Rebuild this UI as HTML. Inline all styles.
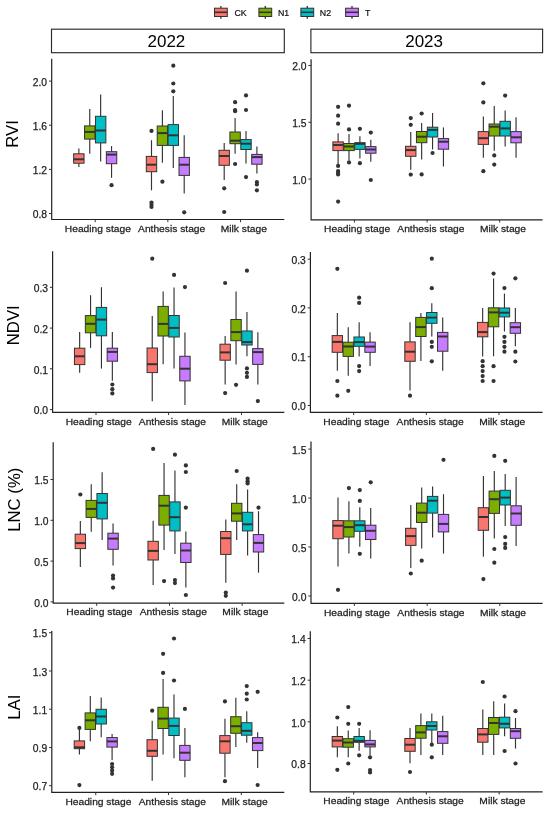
<!DOCTYPE html><html><head><meta charset="utf-8"><style>html,body{margin:0;padding:0;background:#fff;}svg{display:block;font-family:"Liberation Sans",sans-serif;}#w{will-change:transform;width:550px;height:813px;overflow:hidden}</style></head><body><div id="w"><svg width="550" height="813" viewBox="0 0 550 813">
<rect width="550" height="813" fill="#ffffff"/>
<line x1="220.9" y1="5.9" x2="220.9" y2="18.7" stroke="#333333" stroke-width="1.3"/>
<rect x="214.5" y="8.2" width="12.8" height="8.3" fill="#F8766D" stroke="#333333" stroke-width="1.0"/>
<line x1="214.5" y1="12.3" x2="227.3" y2="12.3" stroke="#333333" stroke-width="1.6"/>
<text x="234.4" y="15.7" font-size="8.8" fill="#111" stroke="#111" stroke-width="0.2">CK</text>
<line x1="265.3" y1="5.9" x2="265.3" y2="18.7" stroke="#333333" stroke-width="1.3"/>
<rect x="258.9" y="8.2" width="12.8" height="8.3" fill="#7CAE00" stroke="#333333" stroke-width="1.0"/>
<line x1="258.9" y1="12.3" x2="271.7" y2="12.3" stroke="#333333" stroke-width="1.6"/>
<text x="278" y="15.7" font-size="8.8" fill="#111" stroke="#111" stroke-width="0.2">N1</text>
<line x1="307.3" y1="5.9" x2="307.3" y2="18.7" stroke="#333333" stroke-width="1.3"/>
<rect x="300.9" y="8.2" width="12.8" height="8.3" fill="#00BFC4" stroke="#333333" stroke-width="1.0"/>
<line x1="300.9" y1="12.3" x2="313.7" y2="12.3" stroke="#333333" stroke-width="1.6"/>
<text x="319.8" y="15.7" font-size="8.8" fill="#111" stroke="#111" stroke-width="0.2">N2</text>
<line x1="352" y1="5.9" x2="352" y2="18.7" stroke="#333333" stroke-width="1.3"/>
<rect x="345.6" y="8.2" width="12.8" height="8.3" fill="#C77CFF" stroke="#333333" stroke-width="1.0"/>
<line x1="345.6" y1="12.3" x2="358.4" y2="12.3" stroke="#333333" stroke-width="1.6"/>
<text x="365" y="15.7" font-size="8.8" fill="#111" stroke="#111" stroke-width="0.2">T</text>
<rect x="51.5" y="29.2" width="232.8" height="23.5" fill="#fff" stroke="#2a2a2a" stroke-width="1.15"/>
<text x="166.4" y="47" font-size="17" text-anchor="middle" fill="#000">2022</text>
<rect x="310.9" y="29.2" width="231.7" height="23.5" fill="#fff" stroke="#2a2a2a" stroke-width="1.15"/>
<text x="424.1" y="47" font-size="17" text-anchor="middle" fill="#000">2023</text>
<line x1="78.85" y1="148.6" x2="78.85" y2="153.8" stroke="#333333" stroke-width="1.15"/>
<line x1="78.85" y1="163.2" x2="78.85" y2="167" stroke="#333333" stroke-width="1.15"/>
<rect x="73.65" y="153.8" width="10.4" height="9.4" fill="#F8766D" stroke="#333333" stroke-width="1.0"/>
<line x1="73.65" y1="159.3" x2="84.05" y2="159.3" stroke="#333333" stroke-width="2.0"/>
<line x1="89.75" y1="109" x2="89.75" y2="125.9" stroke="#333333" stroke-width="1.15"/>
<line x1="89.75" y1="139.1" x2="89.75" y2="153.8" stroke="#333333" stroke-width="1.15"/>
<rect x="84.55" y="125.9" width="10.4" height="13.2" fill="#7CAE00" stroke="#333333" stroke-width="1.0"/>
<line x1="84.55" y1="131.9" x2="94.95" y2="131.9" stroke="#333333" stroke-width="2.0"/>
<line x1="100.65" y1="94.4" x2="100.65" y2="116.3" stroke="#333333" stroke-width="1.15"/>
<line x1="100.65" y1="142.9" x2="100.65" y2="161.5" stroke="#333333" stroke-width="1.15"/>
<rect x="95.45" y="116.3" width="10.4" height="26.6" fill="#00BFC4" stroke="#333333" stroke-width="1.0"/>
<line x1="95.45" y1="130.5" x2="105.85" y2="130.5" stroke="#333333" stroke-width="2.0"/>
<line x1="111.55" y1="146.1" x2="111.55" y2="151.7" stroke="#333333" stroke-width="1.15"/>
<line x1="111.55" y1="163.7" x2="111.55" y2="177.8" stroke="#333333" stroke-width="1.15"/>
<rect x="106.35" y="151.7" width="10.4" height="12" fill="#C77CFF" stroke="#333333" stroke-width="1.0"/>
<line x1="106.35" y1="154.6" x2="116.75" y2="154.6" stroke="#333333" stroke-width="2.0"/>
<circle cx="111.55" cy="185.2" r="2.1" fill="#333333"/>
<line x1="151.5" y1="140.2" x2="151.5" y2="156.4" stroke="#333333" stroke-width="1.15"/>
<line x1="151.5" y1="171.7" x2="151.5" y2="190.3" stroke="#333333" stroke-width="1.15"/>
<rect x="146.3" y="156.4" width="10.4" height="15.3" fill="#F8766D" stroke="#333333" stroke-width="1.0"/>
<line x1="146.3" y1="164.7" x2="156.7" y2="164.7" stroke="#333333" stroke-width="2.0"/>
<circle cx="151.5" cy="130.9" r="2.1" fill="#333333"/>
<circle cx="151.5" cy="202.6" r="2.1" fill="#333333"/>
<circle cx="151.5" cy="204.8" r="2.1" fill="#333333"/>
<circle cx="151.5" cy="207" r="2.1" fill="#333333"/>
<line x1="162.4" y1="110.2" x2="162.4" y2="126" stroke="#333333" stroke-width="1.15"/>
<line x1="162.4" y1="145.4" x2="162.4" y2="162.8" stroke="#333333" stroke-width="1.15"/>
<rect x="157.2" y="126" width="10.4" height="19.4" fill="#7CAE00" stroke="#333333" stroke-width="1.0"/>
<line x1="157.2" y1="133.1" x2="167.6" y2="133.1" stroke="#333333" stroke-width="2.0"/>
<circle cx="162.4" cy="181.7" r="2.1" fill="#333333"/>
<line x1="173.3" y1="96" x2="173.3" y2="124.6" stroke="#333333" stroke-width="1.15"/>
<line x1="173.3" y1="145.4" x2="173.3" y2="167.9" stroke="#333333" stroke-width="1.15"/>
<rect x="168.1" y="124.6" width="10.4" height="20.8" fill="#00BFC4" stroke="#333333" stroke-width="1.0"/>
<line x1="168.1" y1="135.3" x2="178.5" y2="135.3" stroke="#333333" stroke-width="2.0"/>
<circle cx="173.3" cy="65.7" r="2.1" fill="#333333"/>
<circle cx="173.3" cy="83.5" r="2.1" fill="#333333"/>
<circle cx="173.3" cy="91.3" r="2.1" fill="#333333"/>
<line x1="184.2" y1="135.3" x2="184.2" y2="157.4" stroke="#333333" stroke-width="1.15"/>
<line x1="184.2" y1="175.4" x2="184.2" y2="193.6" stroke="#333333" stroke-width="1.15"/>
<rect x="179" y="157.4" width="10.4" height="18" fill="#C77CFF" stroke="#333333" stroke-width="1.0"/>
<line x1="179" y1="164.7" x2="189.4" y2="164.7" stroke="#333333" stroke-width="2.0"/>
<circle cx="184.2" cy="212.3" r="2.1" fill="#333333"/>
<line x1="224.2" y1="143.1" x2="224.2" y2="150.3" stroke="#333333" stroke-width="1.15"/>
<line x1="224.2" y1="165.3" x2="224.2" y2="180" stroke="#333333" stroke-width="1.15"/>
<rect x="219" y="150.3" width="10.4" height="15" fill="#F8766D" stroke="#333333" stroke-width="1.0"/>
<line x1="219" y1="156" x2="229.4" y2="156" stroke="#333333" stroke-width="2.0"/>
<circle cx="224.2" cy="188.3" r="2.1" fill="#333333"/>
<circle cx="224.2" cy="212" r="2.1" fill="#333333"/>
<line x1="235.1" y1="118.1" x2="235.1" y2="132" stroke="#333333" stroke-width="1.15"/>
<line x1="235.1" y1="143.7" x2="235.1" y2="153.8" stroke="#333333" stroke-width="1.15"/>
<rect x="229.9" y="132" width="10.4" height="11.7" fill="#7CAE00" stroke="#333333" stroke-width="1.0"/>
<line x1="229.9" y1="140.7" x2="240.3" y2="140.7" stroke="#333333" stroke-width="2.0"/>
<circle cx="235.1" cy="102.2" r="2.1" fill="#333333"/>
<circle cx="235.1" cy="110" r="2.1" fill="#333333"/>
<circle cx="235.1" cy="111.2" r="2.1" fill="#333333"/>
<circle cx="235.1" cy="164" r="2.1" fill="#333333"/>
<line x1="246" y1="130.9" x2="246" y2="139.6" stroke="#333333" stroke-width="1.15"/>
<line x1="246" y1="149.5" x2="246" y2="163.6" stroke="#333333" stroke-width="1.15"/>
<rect x="240.8" y="139.6" width="10.4" height="9.9" fill="#00BFC4" stroke="#333333" stroke-width="1.0"/>
<line x1="240.8" y1="143.7" x2="251.2" y2="143.7" stroke="#333333" stroke-width="2.0"/>
<circle cx="246" cy="95.45" r="2.1" fill="#333333"/>
<circle cx="246" cy="110" r="2.1" fill="#333333"/>
<circle cx="246" cy="177.1" r="2.1" fill="#333333"/>
<line x1="256.9" y1="146.5" x2="256.9" y2="154.4" stroke="#333333" stroke-width="1.15"/>
<line x1="256.9" y1="164.2" x2="256.9" y2="173.5" stroke="#333333" stroke-width="1.15"/>
<rect x="251.7" y="154.4" width="10.4" height="9.8" fill="#C77CFF" stroke="#333333" stroke-width="1.0"/>
<line x1="251.7" y1="157.1" x2="262.1" y2="157.1" stroke="#333333" stroke-width="2.0"/>
<circle cx="256.9" cy="182" r="2.1" fill="#333333"/>
<circle cx="256.9" cy="184.4" r="2.1" fill="#333333"/>
<circle cx="256.9" cy="190.3" r="2.1" fill="#333333"/>
<path d="M51.7 58.7V219.5H284.3" fill="none" stroke="#222" stroke-width="1.2"/>
<line x1="49" y1="213.5" x2="51.7" y2="213.5" stroke="#333333" stroke-width="1.0"/>
<text x="47.1" y="218.2" font-size="10.3" text-anchor="end" fill="#222" stroke="#222" stroke-width="0.25">0.8</text>
<line x1="49" y1="169.4" x2="51.7" y2="169.4" stroke="#333333" stroke-width="1.0"/>
<text x="47.1" y="174.1" font-size="10.3" text-anchor="end" fill="#222" stroke="#222" stroke-width="0.25">1.2</text>
<line x1="49" y1="125.2" x2="51.7" y2="125.2" stroke="#333333" stroke-width="1.0"/>
<text x="47.1" y="129.9" font-size="10.3" text-anchor="end" fill="#222" stroke="#222" stroke-width="0.25">1.6</text>
<line x1="49" y1="81.1" x2="51.7" y2="81.1" stroke="#333333" stroke-width="1.0"/>
<text x="47.1" y="85.8" font-size="10.3" text-anchor="end" fill="#222" stroke="#222" stroke-width="0.25">2.0</text>
<line x1="95.2" y1="219.5" x2="95.2" y2="222.2" stroke="#333333" stroke-width="1.0"/>
<text transform="translate(97.85,231.8) scale(1.03,1)" font-size="9.95" text-anchor="middle" fill="#222" stroke="#222" stroke-width="0.25">Heading stage</text>
<line x1="167.85" y1="219.5" x2="167.85" y2="222.2" stroke="#333333" stroke-width="1.0"/>
<text transform="translate(171.65,231.8) scale(1.03,1)" font-size="9.95" text-anchor="middle" fill="#222" stroke="#222" stroke-width="0.25">Anthesis stage</text>
<line x1="240.55" y1="219.5" x2="240.55" y2="222.2" stroke="#333333" stroke-width="1.0"/>
<text transform="translate(243.8,231.8) scale(1.03,1)" font-size="9.95" text-anchor="middle" fill="#222" stroke="#222" stroke-width="0.25">Milk stage</text>
<text transform="translate(18.1,134) rotate(-90)" font-size="16.8" text-anchor="middle" fill="#000">RVI</text>
<line x1="338.1" y1="133.2" x2="338.1" y2="141.9" stroke="#333333" stroke-width="1.15"/>
<line x1="338.1" y1="150.6" x2="338.1" y2="164.5" stroke="#333333" stroke-width="1.15"/>
<rect x="332.9" y="141.9" width="10.4" height="8.7" fill="#F8766D" stroke="#333333" stroke-width="1.0"/>
<line x1="332.9" y1="145" x2="343.3" y2="145" stroke="#333333" stroke-width="2.0"/>
<circle cx="338.1" cy="106.8" r="2.1" fill="#333333"/>
<circle cx="338.1" cy="115.7" r="2.1" fill="#333333"/>
<circle cx="338.1" cy="123.7" r="2.1" fill="#333333"/>
<circle cx="338.1" cy="165.9" r="2.1" fill="#333333"/>
<circle cx="338.1" cy="171.1" r="2.1" fill="#333333"/>
<circle cx="338.1" cy="172.7" r="2.1" fill="#333333"/>
<circle cx="338.1" cy="174.4" r="2.1" fill="#333333"/>
<circle cx="338.1" cy="201.6" r="2.1" fill="#333333"/>
<line x1="349" y1="134" x2="349" y2="143.5" stroke="#333333" stroke-width="1.15"/>
<line x1="349" y1="150.6" x2="349" y2="160.2" stroke="#333333" stroke-width="1.15"/>
<rect x="343.8" y="143.5" width="10.4" height="7.1" fill="#7CAE00" stroke="#333333" stroke-width="1.0"/>
<line x1="343.8" y1="146.5" x2="354.2" y2="146.5" stroke="#333333" stroke-width="2.0"/>
<circle cx="349" cy="105.7" r="2.1" fill="#333333"/>
<circle cx="349" cy="129.4" r="2.1" fill="#333333"/>
<circle cx="349" cy="162.4" r="2.1" fill="#333333"/>
<line x1="359.9" y1="136.2" x2="359.9" y2="142.7" stroke="#333333" stroke-width="1.15"/>
<line x1="359.9" y1="149.4" x2="359.9" y2="158.6" stroke="#333333" stroke-width="1.15"/>
<rect x="354.7" y="142.7" width="10.4" height="6.7" fill="#00BFC4" stroke="#333333" stroke-width="1.0"/>
<line x1="354.7" y1="143.8" x2="365.1" y2="143.8" stroke="#333333" stroke-width="2.0"/>
<circle cx="359.9" cy="128.8" r="2.1" fill="#333333"/>
<circle cx="359.9" cy="163.2" r="2.1" fill="#333333"/>
<line x1="370.8" y1="139.7" x2="370.8" y2="146.6" stroke="#333333" stroke-width="1.15"/>
<line x1="370.8" y1="153.2" x2="370.8" y2="161.8" stroke="#333333" stroke-width="1.15"/>
<rect x="365.6" y="146.6" width="10.4" height="6.6" fill="#C77CFF" stroke="#333333" stroke-width="1.0"/>
<line x1="365.6" y1="149.5" x2="376" y2="149.5" stroke="#333333" stroke-width="2.0"/>
<circle cx="370.8" cy="132.6" r="2.1" fill="#333333"/>
<circle cx="370.8" cy="180" r="2.1" fill="#333333"/>
<line x1="410.75" y1="132.1" x2="410.75" y2="146.3" stroke="#333333" stroke-width="1.15"/>
<line x1="410.75" y1="156.3" x2="410.75" y2="169.7" stroke="#333333" stroke-width="1.15"/>
<rect x="405.55" y="146.3" width="10.4" height="10" fill="#F8766D" stroke="#333333" stroke-width="1.0"/>
<line x1="405.55" y1="150.1" x2="415.95" y2="150.1" stroke="#333333" stroke-width="2.0"/>
<circle cx="410.75" cy="118.1" r="2.1" fill="#333333"/>
<circle cx="410.75" cy="124.8" r="2.1" fill="#333333"/>
<circle cx="410.75" cy="174.6" r="2.1" fill="#333333"/>
<line x1="421.65" y1="123.1" x2="421.65" y2="131.5" stroke="#333333" stroke-width="1.15"/>
<line x1="421.65" y1="142.7" x2="421.65" y2="159.6" stroke="#333333" stroke-width="1.15"/>
<rect x="416.45" y="131.5" width="10.4" height="11.2" fill="#7CAE00" stroke="#333333" stroke-width="1.0"/>
<line x1="416.45" y1="136.7" x2="426.85" y2="136.7" stroke="#333333" stroke-width="2.0"/>
<circle cx="421.65" cy="113.5" r="2.1" fill="#333333"/>
<circle cx="421.65" cy="174.4" r="2.1" fill="#333333"/>
<line x1="432.55" y1="113" x2="432.55" y2="127.2" stroke="#333333" stroke-width="1.15"/>
<line x1="432.55" y1="137" x2="432.55" y2="149.5" stroke="#333333" stroke-width="1.15"/>
<rect x="427.35" y="127.2" width="10.4" height="9.8" fill="#00BFC4" stroke="#333333" stroke-width="1.0"/>
<line x1="427.35" y1="129.9" x2="437.75" y2="129.9" stroke="#333333" stroke-width="2.0"/>
<circle cx="432.55" cy="153" r="2.1" fill="#333333"/>
<line x1="443.45" y1="127.4" x2="443.45" y2="138.6" stroke="#333333" stroke-width="1.15"/>
<line x1="443.45" y1="149.2" x2="443.45" y2="166.5" stroke="#333333" stroke-width="1.15"/>
<rect x="438.25" y="138.6" width="10.4" height="10.6" fill="#C77CFF" stroke="#333333" stroke-width="1.0"/>
<line x1="438.25" y1="141.7" x2="448.65" y2="141.7" stroke="#333333" stroke-width="2.0"/>
<line x1="483.35" y1="116.4" x2="483.35" y2="131.6" stroke="#333333" stroke-width="1.15"/>
<line x1="483.35" y1="144.4" x2="483.35" y2="157.8" stroke="#333333" stroke-width="1.15"/>
<rect x="478.15" y="131.6" width="10.4" height="12.8" fill="#F8766D" stroke="#333333" stroke-width="1.0"/>
<line x1="478.15" y1="138.2" x2="488.55" y2="138.2" stroke="#333333" stroke-width="2.0"/>
<circle cx="483.35" cy="83.3" r="2.1" fill="#333333"/>
<circle cx="483.35" cy="102.4" r="2.1" fill="#333333"/>
<circle cx="483.35" cy="171.2" r="2.1" fill="#333333"/>
<line x1="494.25" y1="106" x2="494.25" y2="124" stroke="#333333" stroke-width="1.15"/>
<line x1="494.25" y1="136" x2="494.25" y2="150.7" stroke="#333333" stroke-width="1.15"/>
<rect x="489.05" y="124" width="10.4" height="12" fill="#7CAE00" stroke="#333333" stroke-width="1.0"/>
<line x1="489.05" y1="126.7" x2="499.45" y2="126.7" stroke="#333333" stroke-width="2.0"/>
<circle cx="494.25" cy="155.4" r="2.1" fill="#333333"/>
<circle cx="494.25" cy="164.6" r="2.1" fill="#333333"/>
<line x1="505.15" y1="110.6" x2="505.15" y2="121.3" stroke="#333333" stroke-width="1.15"/>
<line x1="505.15" y1="136" x2="505.15" y2="146.4" stroke="#333333" stroke-width="1.15"/>
<rect x="499.95" y="121.3" width="10.4" height="14.7" fill="#00BFC4" stroke="#333333" stroke-width="1.0"/>
<line x1="499.95" y1="128.4" x2="510.35" y2="128.4" stroke="#333333" stroke-width="2.0"/>
<circle cx="505.15" cy="95.6" r="2.1" fill="#333333"/>
<line x1="516.05" y1="117.2" x2="516.05" y2="131.6" stroke="#333333" stroke-width="1.15"/>
<line x1="516.05" y1="142.8" x2="516.05" y2="157.8" stroke="#333333" stroke-width="1.15"/>
<rect x="510.85" y="131.6" width="10.4" height="11.2" fill="#C77CFF" stroke="#333333" stroke-width="1.0"/>
<line x1="510.85" y1="137.3" x2="521.25" y2="137.3" stroke="#333333" stroke-width="2.0"/>
<path d="M311.1 59.2V219.8H542.6" fill="none" stroke="#222" stroke-width="1.2"/>
<line x1="308.4" y1="179.1" x2="311.1" y2="179.1" stroke="#333333" stroke-width="1.0"/>
<text x="306.5" y="183.8" font-size="10.3" text-anchor="end" fill="#222" stroke="#222" stroke-width="0.25">1.0</text>
<line x1="308.4" y1="122.3" x2="311.1" y2="122.3" stroke="#333333" stroke-width="1.0"/>
<text x="306.5" y="127" font-size="10.3" text-anchor="end" fill="#222" stroke="#222" stroke-width="0.25">1.5</text>
<line x1="308.4" y1="65.5" x2="311.1" y2="65.5" stroke="#333333" stroke-width="1.0"/>
<text x="306.5" y="70.2" font-size="10.3" text-anchor="end" fill="#222" stroke="#222" stroke-width="0.25">2.0</text>
<line x1="354.45" y1="219.8" x2="354.45" y2="222.5" stroke="#333333" stroke-width="1.0"/>
<text transform="translate(357.1,232.1) scale(1.03,1)" font-size="9.95" text-anchor="middle" fill="#222" stroke="#222" stroke-width="0.25">Heading stage</text>
<line x1="427.1" y1="219.8" x2="427.1" y2="222.5" stroke="#333333" stroke-width="1.0"/>
<text transform="translate(430.9,232.1) scale(1.03,1)" font-size="9.95" text-anchor="middle" fill="#222" stroke="#222" stroke-width="0.25">Anthesis stage</text>
<line x1="499.7" y1="219.8" x2="499.7" y2="222.5" stroke="#333333" stroke-width="1.0"/>
<text transform="translate(502.95,232.1) scale(1.03,1)" font-size="9.95" text-anchor="middle" fill="#222" stroke="#222" stroke-width="0.25">Milk stage</text>
<line x1="79.65" y1="332" x2="79.65" y2="348.2" stroke="#333333" stroke-width="1.15"/>
<line x1="79.65" y1="364.6" x2="79.65" y2="372.7" stroke="#333333" stroke-width="1.15"/>
<rect x="74.45" y="348.2" width="10.4" height="16.4" fill="#F8766D" stroke="#333333" stroke-width="1.0"/>
<line x1="74.45" y1="356.3" x2="84.85" y2="356.3" stroke="#333333" stroke-width="2.0"/>
<line x1="90.55" y1="295.2" x2="90.55" y2="315.6" stroke="#333333" stroke-width="1.15"/>
<line x1="90.55" y1="332.8" x2="90.55" y2="347.9" stroke="#333333" stroke-width="1.15"/>
<rect x="85.35" y="315.6" width="10.4" height="17.2" fill="#7CAE00" stroke="#333333" stroke-width="1.0"/>
<line x1="85.35" y1="323.8" x2="95.75" y2="323.8" stroke="#333333" stroke-width="2.0"/>
<line x1="101.45" y1="287.2" x2="101.45" y2="307.4" stroke="#333333" stroke-width="1.15"/>
<line x1="101.45" y1="335.8" x2="101.45" y2="368.6" stroke="#333333" stroke-width="1.15"/>
<rect x="96.25" y="307.4" width="10.4" height="28.4" fill="#00BFC4" stroke="#333333" stroke-width="1.0"/>
<line x1="96.25" y1="319.6" x2="106.65" y2="319.6" stroke="#333333" stroke-width="2.0"/>
<line x1="112.35" y1="332" x2="112.35" y2="348.2" stroke="#333333" stroke-width="1.15"/>
<line x1="112.35" y1="361.2" x2="112.35" y2="380.7" stroke="#333333" stroke-width="1.15"/>
<rect x="107.15" y="348.2" width="10.4" height="13" fill="#C77CFF" stroke="#333333" stroke-width="1.0"/>
<line x1="107.15" y1="351.9" x2="117.55" y2="351.9" stroke="#333333" stroke-width="2.0"/>
<circle cx="112.35" cy="384.5" r="2.1" fill="#333333"/>
<circle cx="112.35" cy="389.2" r="2.1" fill="#333333"/>
<circle cx="112.35" cy="393.4" r="2.1" fill="#333333"/>
<line x1="152.25" y1="316" x2="152.25" y2="348" stroke="#333333" stroke-width="1.15"/>
<line x1="152.25" y1="372.6" x2="152.25" y2="401.2" stroke="#333333" stroke-width="1.15"/>
<rect x="147.05" y="348" width="10.4" height="24.6" fill="#F8766D" stroke="#333333" stroke-width="1.0"/>
<line x1="147.05" y1="364.2" x2="157.45" y2="364.2" stroke="#333333" stroke-width="2.0"/>
<circle cx="152.25" cy="258.7" r="2.1" fill="#333333"/>
<line x1="163.15" y1="291.5" x2="163.15" y2="306.4" stroke="#333333" stroke-width="1.15"/>
<line x1="163.15" y1="336" x2="163.15" y2="364.2" stroke="#333333" stroke-width="1.15"/>
<rect x="157.95" y="306.4" width="10.4" height="29.6" fill="#7CAE00" stroke="#333333" stroke-width="1.0"/>
<line x1="157.95" y1="323.9" x2="168.35" y2="323.9" stroke="#333333" stroke-width="2.0"/>
<line x1="174.05" y1="287.4" x2="174.05" y2="315.5" stroke="#333333" stroke-width="1.15"/>
<line x1="174.05" y1="337" x2="174.05" y2="368.5" stroke="#333333" stroke-width="1.15"/>
<rect x="168.85" y="315.5" width="10.4" height="21.5" fill="#00BFC4" stroke="#333333" stroke-width="1.0"/>
<line x1="168.85" y1="327.9" x2="179.25" y2="327.9" stroke="#333333" stroke-width="2.0"/>
<circle cx="174.05" cy="274.9" r="2.1" fill="#333333"/>
<line x1="184.95" y1="332.4" x2="184.95" y2="356.3" stroke="#333333" stroke-width="1.15"/>
<line x1="184.95" y1="380.9" x2="184.95" y2="404.9" stroke="#333333" stroke-width="1.15"/>
<rect x="179.75" y="356.3" width="10.4" height="24.6" fill="#C77CFF" stroke="#333333" stroke-width="1.0"/>
<line x1="179.75" y1="368.7" x2="190.15" y2="368.7" stroke="#333333" stroke-width="2.0"/>
<circle cx="184.95" cy="287.1" r="2.1" fill="#333333"/>
<line x1="225.15" y1="336.1" x2="225.15" y2="344.2" stroke="#333333" stroke-width="1.15"/>
<line x1="225.15" y1="360.2" x2="225.15" y2="384.5" stroke="#333333" stroke-width="1.15"/>
<rect x="219.95" y="344.2" width="10.4" height="16" fill="#F8766D" stroke="#333333" stroke-width="1.0"/>
<line x1="219.95" y1="352.4" x2="230.35" y2="352.4" stroke="#333333" stroke-width="2.0"/>
<circle cx="225.15" cy="283" r="2.1" fill="#333333"/>
<circle cx="225.15" cy="393.1" r="2.1" fill="#333333"/>
<line x1="236.05" y1="291.4" x2="236.05" y2="319.5" stroke="#333333" stroke-width="1.15"/>
<line x1="236.05" y1="340.7" x2="236.05" y2="364.4" stroke="#333333" stroke-width="1.15"/>
<rect x="230.85" y="319.5" width="10.4" height="21.2" fill="#7CAE00" stroke="#333333" stroke-width="1.0"/>
<line x1="230.85" y1="332.1" x2="241.25" y2="332.1" stroke="#333333" stroke-width="2.0"/>
<circle cx="236.05" cy="384.8" r="2.1" fill="#333333"/>
<line x1="246.95" y1="312.1" x2="246.95" y2="331" stroke="#333333" stroke-width="1.15"/>
<line x1="246.95" y1="345" x2="246.95" y2="356.2" stroke="#333333" stroke-width="1.15"/>
<rect x="241.75" y="331" width="10.4" height="14" fill="#00BFC4" stroke="#333333" stroke-width="1.0"/>
<line x1="241.75" y1="342.1" x2="252.15" y2="342.1" stroke="#333333" stroke-width="2.0"/>
<circle cx="246.95" cy="270.7" r="2.1" fill="#333333"/>
<circle cx="246.95" cy="368.4" r="2.1" fill="#333333"/>
<circle cx="246.95" cy="372.8" r="2.1" fill="#333333"/>
<circle cx="246.95" cy="376.9" r="2.1" fill="#333333"/>
<line x1="257.85" y1="332.2" x2="257.85" y2="348.6" stroke="#333333" stroke-width="1.15"/>
<line x1="257.85" y1="364.4" x2="257.85" y2="384.5" stroke="#333333" stroke-width="1.15"/>
<rect x="252.65" y="348.6" width="10.4" height="15.8" fill="#C77CFF" stroke="#333333" stroke-width="1.0"/>
<line x1="252.65" y1="352.1" x2="263.05" y2="352.1" stroke="#333333" stroke-width="2.0"/>
<circle cx="257.85" cy="401.1" r="2.1" fill="#333333"/>
<path d="M52.6 251.3V412.4H284.3" fill="none" stroke="#222" stroke-width="1.2"/>
<line x1="49.9" y1="409.6" x2="52.6" y2="409.6" stroke="#333333" stroke-width="1.0"/>
<text x="48" y="414.3" font-size="10.3" text-anchor="end" fill="#222" stroke="#222" stroke-width="0.25">0.0</text>
<line x1="49.9" y1="368.8" x2="52.6" y2="368.8" stroke="#333333" stroke-width="1.0"/>
<text x="48" y="373.5" font-size="10.3" text-anchor="end" fill="#222" stroke="#222" stroke-width="0.25">0.1</text>
<line x1="49.9" y1="328.1" x2="52.6" y2="328.1" stroke="#333333" stroke-width="1.0"/>
<text x="48" y="332.8" font-size="10.3" text-anchor="end" fill="#222" stroke="#222" stroke-width="0.25">0.2</text>
<line x1="49.9" y1="287.3" x2="52.6" y2="287.3" stroke="#333333" stroke-width="1.0"/>
<text x="48" y="292" font-size="10.3" text-anchor="end" fill="#222" stroke="#222" stroke-width="0.25">0.3</text>
<line x1="96" y1="412.4" x2="96" y2="415.1" stroke="#333333" stroke-width="1.0"/>
<text transform="translate(98.65,424.7) scale(1.03,1)" font-size="9.95" text-anchor="middle" fill="#222" stroke="#222" stroke-width="0.25">Heading stage</text>
<line x1="168.6" y1="412.4" x2="168.6" y2="415.1" stroke="#333333" stroke-width="1.0"/>
<text transform="translate(172.4,424.7) scale(1.03,1)" font-size="9.95" text-anchor="middle" fill="#222" stroke="#222" stroke-width="0.25">Anthesis stage</text>
<line x1="241.5" y1="412.4" x2="241.5" y2="415.1" stroke="#333333" stroke-width="1.0"/>
<text transform="translate(244.75,424.7) scale(1.03,1)" font-size="9.95" text-anchor="middle" fill="#222" stroke="#222" stroke-width="0.25">Milk stage</text>
<text transform="translate(18.6,325.3) rotate(-90)" font-size="16.8" text-anchor="middle" fill="#000">NDVI</text>
<line x1="337.35" y1="312.9" x2="337.35" y2="335.6" stroke="#333333" stroke-width="1.15"/>
<line x1="337.35" y1="352.3" x2="337.35" y2="370.8" stroke="#333333" stroke-width="1.15"/>
<rect x="332.15" y="335.6" width="10.4" height="16.7" fill="#F8766D" stroke="#333333" stroke-width="1.0"/>
<line x1="332.15" y1="341.9" x2="342.55" y2="341.9" stroke="#333333" stroke-width="2.0"/>
<circle cx="337.35" cy="268.8" r="2.1" fill="#333333"/>
<circle cx="337.35" cy="381" r="2.1" fill="#333333"/>
<circle cx="337.35" cy="395.7" r="2.1" fill="#333333"/>
<line x1="348.25" y1="327.3" x2="348.25" y2="342.2" stroke="#333333" stroke-width="1.15"/>
<line x1="348.25" y1="356.4" x2="348.25" y2="375.7" stroke="#333333" stroke-width="1.15"/>
<rect x="343.05" y="342.2" width="10.4" height="14.2" fill="#7CAE00" stroke="#333333" stroke-width="1.0"/>
<line x1="343.05" y1="346.5" x2="353.45" y2="346.5" stroke="#333333" stroke-width="2.0"/>
<circle cx="348.25" cy="390.8" r="2.1" fill="#333333"/>
<line x1="359.15" y1="322.2" x2="359.15" y2="337" stroke="#333333" stroke-width="1.15"/>
<line x1="359.15" y1="346.3" x2="359.15" y2="356.4" stroke="#333333" stroke-width="1.15"/>
<rect x="353.95" y="337" width="10.4" height="9.3" fill="#00BFC4" stroke="#333333" stroke-width="1.0"/>
<line x1="353.95" y1="342.1" x2="364.35" y2="342.1" stroke="#333333" stroke-width="2.0"/>
<circle cx="359.15" cy="297.7" r="2.1" fill="#333333"/>
<circle cx="359.15" cy="302.9" r="2.1" fill="#333333"/>
<circle cx="359.15" cy="366.1" r="2.1" fill="#333333"/>
<circle cx="359.15" cy="371.1" r="2.1" fill="#333333"/>
<line x1="370.05" y1="332.2" x2="370.05" y2="342.1" stroke="#333333" stroke-width="1.15"/>
<line x1="370.05" y1="352.3" x2="370.05" y2="366.1" stroke="#333333" stroke-width="1.15"/>
<rect x="364.85" y="342.1" width="10.4" height="10.2" fill="#C77CFF" stroke="#333333" stroke-width="1.0"/>
<line x1="364.85" y1="346.6" x2="375.25" y2="346.6" stroke="#333333" stroke-width="2.0"/>
<line x1="410" y1="322.3" x2="410" y2="341.9" stroke="#333333" stroke-width="1.15"/>
<line x1="410" y1="361.3" x2="410" y2="390.5" stroke="#333333" stroke-width="1.15"/>
<rect x="404.8" y="341.9" width="10.4" height="19.4" fill="#F8766D" stroke="#333333" stroke-width="1.0"/>
<line x1="404.8" y1="351.7" x2="415.2" y2="351.7" stroke="#333333" stroke-width="2.0"/>
<circle cx="410" cy="395.7" r="2.1" fill="#333333"/>
<line x1="420.9" y1="313.1" x2="420.9" y2="317.4" stroke="#333333" stroke-width="1.15"/>
<line x1="420.9" y1="336.5" x2="420.9" y2="361" stroke="#333333" stroke-width="1.15"/>
<rect x="415.7" y="317.4" width="10.4" height="19.1" fill="#7CAE00" stroke="#333333" stroke-width="1.0"/>
<line x1="415.7" y1="327.1" x2="426.1" y2="327.1" stroke="#333333" stroke-width="2.0"/>
<line x1="431.8" y1="303.2" x2="431.8" y2="312.5" stroke="#333333" stroke-width="1.15"/>
<line x1="431.8" y1="323.3" x2="431.8" y2="336.5" stroke="#333333" stroke-width="1.15"/>
<rect x="426.6" y="312.5" width="10.4" height="10.8" fill="#00BFC4" stroke="#333333" stroke-width="1.0"/>
<line x1="426.6" y1="317.6" x2="437" y2="317.6" stroke="#333333" stroke-width="2.0"/>
<circle cx="431.8" cy="258.7" r="2.1" fill="#333333"/>
<circle cx="431.8" cy="288.2" r="2.1" fill="#333333"/>
<circle cx="431.8" cy="341.9" r="2.1" fill="#333333"/>
<circle cx="431.8" cy="346.8" r="2.1" fill="#333333"/>
<circle cx="431.8" cy="361.3" r="2.1" fill="#333333"/>
<line x1="442.7" y1="317.6" x2="442.7" y2="332.4" stroke="#333333" stroke-width="1.15"/>
<line x1="442.7" y1="351.2" x2="442.7" y2="370.8" stroke="#333333" stroke-width="1.15"/>
<rect x="437.5" y="332.4" width="10.4" height="18.8" fill="#C77CFF" stroke="#333333" stroke-width="1.0"/>
<line x1="437.5" y1="336.5" x2="447.9" y2="336.5" stroke="#333333" stroke-width="2.0"/>
<line x1="482.65" y1="308" x2="482.65" y2="322.4" stroke="#333333" stroke-width="1.15"/>
<line x1="482.65" y1="336.8" x2="482.65" y2="356.6" stroke="#333333" stroke-width="1.15"/>
<rect x="477.45" y="322.4" width="10.4" height="14.4" fill="#F8766D" stroke="#333333" stroke-width="1.0"/>
<line x1="477.45" y1="332.1" x2="487.85" y2="332.1" stroke="#333333" stroke-width="2.0"/>
<circle cx="482.65" cy="361.2" r="2.1" fill="#333333"/>
<circle cx="482.65" cy="366.2" r="2.1" fill="#333333"/>
<circle cx="482.65" cy="371.1" r="2.1" fill="#333333"/>
<circle cx="482.65" cy="376.1" r="2.1" fill="#333333"/>
<circle cx="482.65" cy="381" r="2.1" fill="#333333"/>
<line x1="493.55" y1="278.5" x2="493.55" y2="307.8" stroke="#333333" stroke-width="1.15"/>
<line x1="493.55" y1="326.8" x2="493.55" y2="356.3" stroke="#333333" stroke-width="1.15"/>
<rect x="488.35" y="307.8" width="10.4" height="19" fill="#7CAE00" stroke="#333333" stroke-width="1.0"/>
<line x1="488.35" y1="312.4" x2="498.75" y2="312.4" stroke="#333333" stroke-width="2.0"/>
<circle cx="493.55" cy="273.6" r="2.1" fill="#333333"/>
<circle cx="493.55" cy="366.2" r="2.1" fill="#333333"/>
<circle cx="493.55" cy="381" r="2.1" fill="#333333"/>
<line x1="504.45" y1="293.6" x2="504.45" y2="308" stroke="#333333" stroke-width="1.15"/>
<line x1="504.45" y1="316.9" x2="504.45" y2="331.5" stroke="#333333" stroke-width="1.15"/>
<rect x="499.25" y="308" width="10.4" height="8.9" fill="#00BFC4" stroke="#333333" stroke-width="1.0"/>
<line x1="499.25" y1="312.7" x2="509.65" y2="312.7" stroke="#333333" stroke-width="2.0"/>
<circle cx="504.45" cy="288.1" r="2.1" fill="#333333"/>
<circle cx="504.45" cy="336.8" r="2.1" fill="#333333"/>
<circle cx="504.45" cy="341.9" r="2.1" fill="#333333"/>
<circle cx="504.45" cy="346.8" r="2.1" fill="#333333"/>
<circle cx="504.45" cy="351.7" r="2.1" fill="#333333"/>
<line x1="515.35" y1="308" x2="515.35" y2="322.7" stroke="#333333" stroke-width="1.15"/>
<line x1="515.35" y1="333.3" x2="515.35" y2="346.3" stroke="#333333" stroke-width="1.15"/>
<rect x="510.15" y="322.7" width="10.4" height="10.6" fill="#C77CFF" stroke="#333333" stroke-width="1.0"/>
<line x1="510.15" y1="327.2" x2="520.55" y2="327.2" stroke="#333333" stroke-width="2.0"/>
<circle cx="515.35" cy="278.3" r="2.1" fill="#333333"/>
<circle cx="515.35" cy="351.7" r="2.1" fill="#333333"/>
<circle cx="515.35" cy="361.5" r="2.1" fill="#333333"/>
<path d="M310.4 252V412.4H542.6" fill="none" stroke="#222" stroke-width="1.2"/>
<line x1="307.7" y1="405.5" x2="310.4" y2="405.5" stroke="#333333" stroke-width="1.0"/>
<text x="305.8" y="410.2" font-size="10.3" text-anchor="end" fill="#222" stroke="#222" stroke-width="0.25">0.0</text>
<line x1="307.7" y1="356.7" x2="310.4" y2="356.7" stroke="#333333" stroke-width="1.0"/>
<text x="305.8" y="361.4" font-size="10.3" text-anchor="end" fill="#222" stroke="#222" stroke-width="0.25">0.1</text>
<line x1="307.7" y1="307.9" x2="310.4" y2="307.9" stroke="#333333" stroke-width="1.0"/>
<text x="305.8" y="312.6" font-size="10.3" text-anchor="end" fill="#222" stroke="#222" stroke-width="0.25">0.2</text>
<line x1="307.7" y1="259.2" x2="310.4" y2="259.2" stroke="#333333" stroke-width="1.0"/>
<text x="305.8" y="263.9" font-size="10.3" text-anchor="end" fill="#222" stroke="#222" stroke-width="0.25">0.3</text>
<line x1="353.7" y1="412.4" x2="353.7" y2="415.1" stroke="#333333" stroke-width="1.0"/>
<text transform="translate(356.35,424.7) scale(1.03,1)" font-size="9.95" text-anchor="middle" fill="#222" stroke="#222" stroke-width="0.25">Heading stage</text>
<line x1="426.35" y1="412.4" x2="426.35" y2="415.1" stroke="#333333" stroke-width="1.0"/>
<text transform="translate(430.15,424.7) scale(1.03,1)" font-size="9.95" text-anchor="middle" fill="#222" stroke="#222" stroke-width="0.25">Anthesis stage</text>
<line x1="499" y1="412.4" x2="499" y2="415.1" stroke="#333333" stroke-width="1.0"/>
<text transform="translate(502.25,424.7) scale(1.03,1)" font-size="9.95" text-anchor="middle" fill="#222" stroke="#222" stroke-width="0.25">Milk stage</text>
<line x1="80.35" y1="520.9" x2="80.35" y2="534.2" stroke="#333333" stroke-width="1.15"/>
<line x1="80.35" y1="548.6" x2="80.35" y2="567.1" stroke="#333333" stroke-width="1.15"/>
<rect x="75.15" y="534.2" width="10.4" height="14.4" fill="#F8766D" stroke="#333333" stroke-width="1.0"/>
<line x1="75.15" y1="543.1" x2="85.55" y2="543.1" stroke="#333333" stroke-width="2.0"/>
<circle cx="80.35" cy="494.5" r="2.1" fill="#333333"/>
<line x1="91.25" y1="484.3" x2="91.25" y2="500.4" stroke="#333333" stroke-width="1.15"/>
<line x1="91.25" y1="517.4" x2="91.25" y2="531.7" stroke="#333333" stroke-width="1.15"/>
<rect x="86.05" y="500.4" width="10.4" height="17" fill="#7CAE00" stroke="#333333" stroke-width="1.0"/>
<line x1="86.05" y1="508.9" x2="96.45" y2="508.9" stroke="#333333" stroke-width="2.0"/>
<line x1="102.15" y1="472.2" x2="102.15" y2="493.5" stroke="#333333" stroke-width="1.15"/>
<line x1="102.15" y1="518.9" x2="102.15" y2="540" stroke="#333333" stroke-width="1.15"/>
<rect x="96.95" y="493.5" width="10.4" height="25.4" fill="#00BFC4" stroke="#333333" stroke-width="1.0"/>
<line x1="96.95" y1="502.8" x2="107.35" y2="502.8" stroke="#333333" stroke-width="2.0"/>
<line x1="113.05" y1="523.4" x2="113.05" y2="533.2" stroke="#333333" stroke-width="1.15"/>
<line x1="113.05" y1="549.3" x2="113.05" y2="565.6" stroke="#333333" stroke-width="1.15"/>
<rect x="107.85" y="533.2" width="10.4" height="16.1" fill="#C77CFF" stroke="#333333" stroke-width="1.0"/>
<line x1="107.85" y1="538.6" x2="118.25" y2="538.6" stroke="#333333" stroke-width="2.0"/>
<circle cx="113.05" cy="575.6" r="2.1" fill="#333333"/>
<circle cx="113.05" cy="578.4" r="2.1" fill="#333333"/>
<circle cx="113.05" cy="587.6" r="2.1" fill="#333333"/>
<line x1="153.15" y1="520.7" x2="153.15" y2="541.3" stroke="#333333" stroke-width="1.15"/>
<line x1="153.15" y1="560" x2="153.15" y2="585.1" stroke="#333333" stroke-width="1.15"/>
<rect x="147.95" y="541.3" width="10.4" height="18.7" fill="#F8766D" stroke="#333333" stroke-width="1.0"/>
<line x1="147.95" y1="550.9" x2="158.35" y2="550.9" stroke="#333333" stroke-width="2.0"/>
<circle cx="153.15" cy="448.9" r="2.1" fill="#333333"/>
<line x1="164.05" y1="462.9" x2="164.05" y2="495.4" stroke="#333333" stroke-width="1.15"/>
<line x1="164.05" y1="525.1" x2="164.05" y2="550" stroke="#333333" stroke-width="1.15"/>
<rect x="158.85" y="495.4" width="10.4" height="29.7" fill="#7CAE00" stroke="#333333" stroke-width="1.0"/>
<line x1="158.85" y1="505.7" x2="169.25" y2="505.7" stroke="#333333" stroke-width="2.0"/>
<circle cx="164.05" cy="581.1" r="2.1" fill="#333333"/>
<line x1="174.95" y1="470.5" x2="174.95" y2="501.9" stroke="#333333" stroke-width="1.15"/>
<line x1="174.95" y1="530.9" x2="174.95" y2="554" stroke="#333333" stroke-width="1.15"/>
<rect x="169.75" y="501.9" width="10.4" height="29" fill="#00BFC4" stroke="#333333" stroke-width="1.0"/>
<line x1="169.75" y1="517.2" x2="180.15" y2="517.2" stroke="#333333" stroke-width="2.0"/>
<circle cx="174.95" cy="454.7" r="2.1" fill="#333333"/>
<circle cx="174.95" cy="580" r="2.1" fill="#333333"/>
<circle cx="174.95" cy="583.1" r="2.1" fill="#333333"/>
<line x1="185.85" y1="531.5" x2="185.85" y2="543.2" stroke="#333333" stroke-width="1.15"/>
<line x1="185.85" y1="562.5" x2="185.85" y2="587.6" stroke="#333333" stroke-width="1.15"/>
<rect x="180.65" y="543.2" width="10.4" height="19.3" fill="#C77CFF" stroke="#333333" stroke-width="1.0"/>
<line x1="180.65" y1="550.5" x2="191.05" y2="550.5" stroke="#333333" stroke-width="2.0"/>
<circle cx="185.85" cy="465.4" r="2.1" fill="#333333"/>
<circle cx="185.85" cy="472" r="2.1" fill="#333333"/>
<circle cx="185.85" cy="507.6" r="2.1" fill="#333333"/>
<circle cx="185.85" cy="595" r="2.1" fill="#333333"/>
<line x1="225.8" y1="519.4" x2="225.8" y2="531.5" stroke="#333333" stroke-width="1.15"/>
<line x1="225.8" y1="554.4" x2="225.8" y2="582.7" stroke="#333333" stroke-width="1.15"/>
<rect x="220.6" y="531.5" width="10.4" height="22.9" fill="#F8766D" stroke="#333333" stroke-width="1.0"/>
<line x1="220.6" y1="538.2" x2="231" y2="538.2" stroke="#333333" stroke-width="2.0"/>
<circle cx="225.8" cy="592.5" r="2.1" fill="#333333"/>
<circle cx="225.8" cy="595.8" r="2.1" fill="#333333"/>
<line x1="236.7" y1="484.2" x2="236.7" y2="503.3" stroke="#333333" stroke-width="1.15"/>
<line x1="236.7" y1="521.2" x2="236.7" y2="540" stroke="#333333" stroke-width="1.15"/>
<rect x="231.5" y="503.3" width="10.4" height="17.9" fill="#7CAE00" stroke="#333333" stroke-width="1.0"/>
<line x1="231.5" y1="513.4" x2="241.9" y2="513.4" stroke="#333333" stroke-width="2.0"/>
<circle cx="236.7" cy="471" r="2.1" fill="#333333"/>
<line x1="247.6" y1="489.4" x2="247.6" y2="512.3" stroke="#333333" stroke-width="1.15"/>
<line x1="247.6" y1="530.9" x2="247.6" y2="555.5" stroke="#333333" stroke-width="1.15"/>
<rect x="242.4" y="512.3" width="10.4" height="18.6" fill="#00BFC4" stroke="#333333" stroke-width="1.0"/>
<line x1="242.4" y1="524.3" x2="252.8" y2="524.3" stroke="#333333" stroke-width="2.0"/>
<circle cx="247.6" cy="478.5" r="2.1" fill="#333333"/>
<circle cx="247.6" cy="481.2" r="2.1" fill="#333333"/>
<circle cx="247.6" cy="483.4" r="2.1" fill="#333333"/>
<line x1="258.5" y1="511.2" x2="258.5" y2="534.6" stroke="#333333" stroke-width="1.15"/>
<line x1="258.5" y1="552" x2="258.5" y2="572.7" stroke="#333333" stroke-width="1.15"/>
<rect x="253.3" y="534.6" width="10.4" height="17.4" fill="#C77CFF" stroke="#333333" stroke-width="1.0"/>
<line x1="253.3" y1="542.9" x2="263.7" y2="542.9" stroke="#333333" stroke-width="2.0"/>
<circle cx="258.5" cy="507.7" r="2.1" fill="#333333"/>
<path d="M53.2 442.2V603.1H284.3" fill="none" stroke="#222" stroke-width="1.2"/>
<line x1="50.5" y1="601.9" x2="53.2" y2="601.9" stroke="#333333" stroke-width="1.0"/>
<text x="48.6" y="606.6" font-size="10.3" text-anchor="end" fill="#222" stroke="#222" stroke-width="0.25">0.0</text>
<line x1="50.5" y1="561.1" x2="53.2" y2="561.1" stroke="#333333" stroke-width="1.0"/>
<text x="48.6" y="565.8" font-size="10.3" text-anchor="end" fill="#222" stroke="#222" stroke-width="0.25">0.5</text>
<line x1="50.5" y1="520.3" x2="53.2" y2="520.3" stroke="#333333" stroke-width="1.0"/>
<text x="48.6" y="525" font-size="10.3" text-anchor="end" fill="#222" stroke="#222" stroke-width="0.25">1.0</text>
<line x1="50.5" y1="479.5" x2="53.2" y2="479.5" stroke="#333333" stroke-width="1.0"/>
<text x="48.6" y="484.2" font-size="10.3" text-anchor="end" fill="#222" stroke="#222" stroke-width="0.25">1.5</text>
<line x1="96.7" y1="603.1" x2="96.7" y2="605.8" stroke="#333333" stroke-width="1.0"/>
<text transform="translate(99.35,615.4) scale(1.03,1)" font-size="9.95" text-anchor="middle" fill="#222" stroke="#222" stroke-width="0.25">Heading stage</text>
<line x1="169.5" y1="603.1" x2="169.5" y2="605.8" stroke="#333333" stroke-width="1.0"/>
<text transform="translate(173.3,615.4) scale(1.03,1)" font-size="9.95" text-anchor="middle" fill="#222" stroke="#222" stroke-width="0.25">Anthesis stage</text>
<line x1="242.15" y1="603.1" x2="242.15" y2="605.8" stroke="#333333" stroke-width="1.0"/>
<text transform="translate(245.4,615.4) scale(1.03,1)" font-size="9.95" text-anchor="middle" fill="#222" stroke="#222" stroke-width="0.25">Milk stage</text>
<text transform="translate(20,499.7) rotate(-90)" font-size="16.8" text-anchor="middle" fill="#000">LNC (%)</text>
<line x1="338" y1="497.4" x2="338" y2="520.6" stroke="#333333" stroke-width="1.15"/>
<line x1="338" y1="538.7" x2="338" y2="566.4" stroke="#333333" stroke-width="1.15"/>
<rect x="332.8" y="520.6" width="10.4" height="18.1" fill="#F8766D" stroke="#333333" stroke-width="1.0"/>
<line x1="332.8" y1="525.7" x2="343.2" y2="525.7" stroke="#333333" stroke-width="2.0"/>
<circle cx="338" cy="589.8" r="2.1" fill="#333333"/>
<line x1="348.9" y1="501.2" x2="348.9" y2="520.8" stroke="#333333" stroke-width="1.15"/>
<line x1="348.9" y1="537" x2="348.9" y2="553.5" stroke="#333333" stroke-width="1.15"/>
<rect x="343.7" y="520.8" width="10.4" height="16.2" fill="#7CAE00" stroke="#333333" stroke-width="1.0"/>
<line x1="343.7" y1="527.1" x2="354.1" y2="527.1" stroke="#333333" stroke-width="2.0"/>
<circle cx="348.9" cy="488.1" r="2.1" fill="#333333"/>
<line x1="359.8" y1="507.2" x2="359.8" y2="520.8" stroke="#333333" stroke-width="1.15"/>
<line x1="359.8" y1="531.3" x2="359.8" y2="546.8" stroke="#333333" stroke-width="1.15"/>
<rect x="354.6" y="520.8" width="10.4" height="10.5" fill="#00BFC4" stroke="#333333" stroke-width="1.0"/>
<line x1="354.6" y1="525.2" x2="365" y2="525.2" stroke="#333333" stroke-width="2.0"/>
<circle cx="359.8" cy="490.1" r="2.1" fill="#333333"/>
<circle cx="359.8" cy="500.9" r="2.1" fill="#333333"/>
<circle cx="359.8" cy="553.8" r="2.1" fill="#333333"/>
<line x1="370.7" y1="508.1" x2="370.7" y2="525.2" stroke="#333333" stroke-width="1.15"/>
<line x1="370.7" y1="539.5" x2="370.7" y2="558.5" stroke="#333333" stroke-width="1.15"/>
<rect x="365.5" y="525.2" width="10.4" height="14.3" fill="#C77CFF" stroke="#333333" stroke-width="1.0"/>
<line x1="365.5" y1="530.8" x2="375.9" y2="530.8" stroke="#333333" stroke-width="2.0"/>
<circle cx="370.7" cy="482.3" r="2.1" fill="#333333"/>
<line x1="410.8" y1="505.1" x2="410.8" y2="528.3" stroke="#333333" stroke-width="1.15"/>
<line x1="410.8" y1="545.4" x2="410.8" y2="568" stroke="#333333" stroke-width="1.15"/>
<rect x="405.6" y="528.3" width="10.4" height="17.1" fill="#F8766D" stroke="#333333" stroke-width="1.0"/>
<line x1="405.6" y1="536.1" x2="416" y2="536.1" stroke="#333333" stroke-width="2.0"/>
<circle cx="410.8" cy="573.5" r="2.1" fill="#333333"/>
<line x1="421.7" y1="487.4" x2="421.7" y2="503.1" stroke="#333333" stroke-width="1.15"/>
<line x1="421.7" y1="522.5" x2="421.7" y2="548.6" stroke="#333333" stroke-width="1.15"/>
<rect x="416.5" y="503.1" width="10.4" height="19.4" fill="#7CAE00" stroke="#333333" stroke-width="1.0"/>
<line x1="416.5" y1="512.7" x2="426.9" y2="512.7" stroke="#333333" stroke-width="2.0"/>
<circle cx="421.7" cy="560.7" r="2.1" fill="#333333"/>
<line x1="432.6" y1="486.5" x2="432.6" y2="496.4" stroke="#333333" stroke-width="1.15"/>
<line x1="432.6" y1="513.1" x2="432.6" y2="537.5" stroke="#333333" stroke-width="1.15"/>
<rect x="427.4" y="496.4" width="10.4" height="16.7" fill="#00BFC4" stroke="#333333" stroke-width="1.0"/>
<line x1="427.4" y1="500.7" x2="437.8" y2="500.7" stroke="#333333" stroke-width="2.0"/>
<line x1="443.5" y1="494.2" x2="443.5" y2="514.4" stroke="#333333" stroke-width="1.15"/>
<line x1="443.5" y1="531.9" x2="443.5" y2="553.6" stroke="#333333" stroke-width="1.15"/>
<rect x="438.3" y="514.4" width="10.4" height="17.5" fill="#C77CFF" stroke="#333333" stroke-width="1.0"/>
<line x1="438.3" y1="523.9" x2="448.7" y2="523.9" stroke="#333333" stroke-width="2.0"/>
<circle cx="443.5" cy="459.8" r="2.1" fill="#333333"/>
<line x1="483.4" y1="476.1" x2="483.4" y2="507.7" stroke="#333333" stroke-width="1.15"/>
<line x1="483.4" y1="530.3" x2="483.4" y2="556.7" stroke="#333333" stroke-width="1.15"/>
<rect x="478.2" y="507.7" width="10.4" height="22.6" fill="#F8766D" stroke="#333333" stroke-width="1.0"/>
<line x1="478.2" y1="517" x2="488.6" y2="517" stroke="#333333" stroke-width="2.0"/>
<circle cx="483.4" cy="579.1" r="2.1" fill="#333333"/>
<line x1="494.3" y1="471" x2="494.3" y2="491.1" stroke="#333333" stroke-width="1.15"/>
<line x1="494.3" y1="513.4" x2="494.3" y2="538.5" stroke="#333333" stroke-width="1.15"/>
<rect x="489.1" y="491.1" width="10.4" height="22.3" fill="#7CAE00" stroke="#333333" stroke-width="1.0"/>
<line x1="489.1" y1="499.2" x2="499.5" y2="499.2" stroke="#333333" stroke-width="2.0"/>
<circle cx="494.3" cy="455.9" r="2.1" fill="#333333"/>
<circle cx="494.3" cy="549" r="2.1" fill="#333333"/>
<circle cx="494.3" cy="562.7" r="2.1" fill="#333333"/>
<line x1="505.2" y1="473.9" x2="505.2" y2="490.3" stroke="#333333" stroke-width="1.15"/>
<line x1="505.2" y1="505" x2="505.2" y2="526.1" stroke="#333333" stroke-width="1.15"/>
<rect x="500" y="490.3" width="10.4" height="14.7" fill="#00BFC4" stroke="#333333" stroke-width="1.0"/>
<line x1="500" y1="497.6" x2="510.4" y2="497.6" stroke="#333333" stroke-width="2.0"/>
<circle cx="505.2" cy="460.8" r="2.1" fill="#333333"/>
<circle cx="505.2" cy="537.1" r="2.1" fill="#333333"/>
<circle cx="505.2" cy="543.9" r="2.1" fill="#333333"/>
<circle cx="505.2" cy="547.9" r="2.1" fill="#333333"/>
<line x1="516.1" y1="476.9" x2="516.1" y2="505.8" stroke="#333333" stroke-width="1.15"/>
<line x1="516.1" y1="525.3" x2="516.1" y2="546.1" stroke="#333333" stroke-width="1.15"/>
<rect x="510.9" y="505.8" width="10.4" height="19.5" fill="#C77CFF" stroke="#333333" stroke-width="1.0"/>
<line x1="510.9" y1="513.5" x2="521.3" y2="513.5" stroke="#333333" stroke-width="2.0"/>
<path d="M311 441.6V603.3H542.6" fill="none" stroke="#222" stroke-width="1.2"/>
<line x1="308.3" y1="596" x2="311" y2="596" stroke="#333333" stroke-width="1.0"/>
<text x="306.4" y="600.7" font-size="10.3" text-anchor="end" fill="#222" stroke="#222" stroke-width="0.25">0.0</text>
<line x1="308.3" y1="547" x2="311" y2="547" stroke="#333333" stroke-width="1.0"/>
<text x="306.4" y="551.7" font-size="10.3" text-anchor="end" fill="#222" stroke="#222" stroke-width="0.25">0.5</text>
<line x1="308.3" y1="498.1" x2="311" y2="498.1" stroke="#333333" stroke-width="1.0"/>
<text x="306.4" y="502.8" font-size="10.3" text-anchor="end" fill="#222" stroke="#222" stroke-width="0.25">1.0</text>
<line x1="308.3" y1="449.1" x2="311" y2="449.1" stroke="#333333" stroke-width="1.0"/>
<text x="306.4" y="453.8" font-size="10.3" text-anchor="end" fill="#222" stroke="#222" stroke-width="0.25">1.5</text>
<line x1="354.35" y1="603.3" x2="354.35" y2="606" stroke="#333333" stroke-width="1.0"/>
<text transform="translate(357,615.6) scale(1.03,1)" font-size="9.95" text-anchor="middle" fill="#222" stroke="#222" stroke-width="0.25">Heading stage</text>
<line x1="427.15" y1="603.3" x2="427.15" y2="606" stroke="#333333" stroke-width="1.0"/>
<text transform="translate(430.95,615.6) scale(1.03,1)" font-size="9.95" text-anchor="middle" fill="#222" stroke="#222" stroke-width="0.25">Anthesis stage</text>
<line x1="499.75" y1="603.3" x2="499.75" y2="606" stroke="#333333" stroke-width="1.0"/>
<text transform="translate(503,615.6) scale(1.03,1)" font-size="9.95" text-anchor="middle" fill="#222" stroke="#222" stroke-width="0.25">Milk stage</text>
<line x1="79.4" y1="729.3" x2="79.4" y2="740.9" stroke="#333333" stroke-width="1.15"/>
<line x1="79.4" y1="748.7" x2="79.4" y2="754.5" stroke="#333333" stroke-width="1.15"/>
<rect x="74.2" y="740.9" width="10.4" height="7.8" fill="#F8766D" stroke="#333333" stroke-width="1.0"/>
<line x1="74.2" y1="747.3" x2="84.6" y2="747.3" stroke="#333333" stroke-width="2.0"/>
<circle cx="79.4" cy="727.9" r="2.1" fill="#333333"/>
<circle cx="79.4" cy="785.1" r="2.1" fill="#333333"/>
<line x1="90.3" y1="696" x2="90.3" y2="712.9" stroke="#333333" stroke-width="1.15"/>
<line x1="90.3" y1="729.4" x2="90.3" y2="741.3" stroke="#333333" stroke-width="1.15"/>
<rect x="85.1" y="712.9" width="10.4" height="16.5" fill="#7CAE00" stroke="#333333" stroke-width="1.0"/>
<line x1="85.1" y1="720.3" x2="95.5" y2="720.3" stroke="#333333" stroke-width="2.0"/>
<line x1="101.2" y1="697.6" x2="101.2" y2="709.3" stroke="#333333" stroke-width="1.15"/>
<line x1="101.2" y1="724" x2="101.2" y2="737.3" stroke="#333333" stroke-width="1.15"/>
<rect x="96" y="709.3" width="10.4" height="14.7" fill="#00BFC4" stroke="#333333" stroke-width="1.0"/>
<line x1="96" y1="716.5" x2="106.4" y2="716.5" stroke="#333333" stroke-width="2.0"/>
<line x1="112.1" y1="733.9" x2="112.1" y2="737.6" stroke="#333333" stroke-width="1.15"/>
<line x1="112.1" y1="747.1" x2="112.1" y2="760.2" stroke="#333333" stroke-width="1.15"/>
<rect x="106.9" y="737.6" width="10.4" height="9.5" fill="#C77CFF" stroke="#333333" stroke-width="1.0"/>
<line x1="106.9" y1="741.4" x2="117.3" y2="741.4" stroke="#333333" stroke-width="2.0"/>
<circle cx="112.1" cy="764" r="2.1" fill="#333333"/>
<circle cx="112.1" cy="767.3" r="2.1" fill="#333333"/>
<circle cx="112.1" cy="770.5" r="2.1" fill="#333333"/>
<circle cx="112.1" cy="773.8" r="2.1" fill="#333333"/>
<line x1="152.2" y1="720.8" x2="152.2" y2="739.7" stroke="#333333" stroke-width="1.15"/>
<line x1="152.2" y1="756.3" x2="152.2" y2="780.8" stroke="#333333" stroke-width="1.15"/>
<rect x="147" y="739.7" width="10.4" height="16.6" fill="#F8766D" stroke="#333333" stroke-width="1.0"/>
<line x1="147" y1="750.8" x2="157.4" y2="750.8" stroke="#333333" stroke-width="2.0"/>
<circle cx="152.2" cy="710.7" r="2.1" fill="#333333"/>
<line x1="163.1" y1="678.9" x2="163.1" y2="707.3" stroke="#333333" stroke-width="1.15"/>
<line x1="163.1" y1="728.5" x2="163.1" y2="754.6" stroke="#333333" stroke-width="1.15"/>
<rect x="157.9" y="707.3" width="10.4" height="21.2" fill="#7CAE00" stroke="#333333" stroke-width="1.0"/>
<line x1="157.9" y1="718.6" x2="168.3" y2="718.6" stroke="#333333" stroke-width="2.0"/>
<circle cx="163.1" cy="653.8" r="2.1" fill="#333333"/>
<circle cx="163.1" cy="672.9" r="2.1" fill="#333333"/>
<line x1="174" y1="694.4" x2="174" y2="718.1" stroke="#333333" stroke-width="1.15"/>
<line x1="174" y1="735.5" x2="174" y2="758.2" stroke="#333333" stroke-width="1.15"/>
<rect x="168.8" y="718.1" width="10.4" height="17.4" fill="#00BFC4" stroke="#333333" stroke-width="1.0"/>
<line x1="168.8" y1="725.9" x2="179.2" y2="725.9" stroke="#333333" stroke-width="2.0"/>
<circle cx="174" cy="638.5" r="2.1" fill="#333333"/>
<circle cx="174" cy="680.5" r="2.1" fill="#333333"/>
<line x1="184.9" y1="728.1" x2="184.9" y2="745.4" stroke="#333333" stroke-width="1.15"/>
<line x1="184.9" y1="760.3" x2="184.9" y2="777.2" stroke="#333333" stroke-width="1.15"/>
<rect x="179.7" y="745.4" width="10.4" height="14.9" fill="#C77CFF" stroke="#333333" stroke-width="1.0"/>
<line x1="179.7" y1="752.7" x2="190.1" y2="752.7" stroke="#333333" stroke-width="2.0"/>
<circle cx="184.9" cy="708.9" r="2.1" fill="#333333"/>
<line x1="224.95" y1="718.8" x2="224.95" y2="735.6" stroke="#333333" stroke-width="1.15"/>
<line x1="224.95" y1="753.2" x2="224.95" y2="777.2" stroke="#333333" stroke-width="1.15"/>
<rect x="219.75" y="735.6" width="10.4" height="17.6" fill="#F8766D" stroke="#333333" stroke-width="1.0"/>
<line x1="219.75" y1="741.3" x2="230.15" y2="741.3" stroke="#333333" stroke-width="2.0"/>
<circle cx="224.95" cy="701.4" r="2.1" fill="#333333"/>
<circle cx="224.95" cy="781.2" r="2.1" fill="#333333"/>
<line x1="235.85" y1="697.8" x2="235.85" y2="716.7" stroke="#333333" stroke-width="1.15"/>
<line x1="235.85" y1="733.3" x2="235.85" y2="746.9" stroke="#333333" stroke-width="1.15"/>
<rect x="230.65" y="716.7" width="10.4" height="16.6" fill="#7CAE00" stroke="#333333" stroke-width="1.0"/>
<line x1="230.65" y1="726.2" x2="241.05" y2="726.2" stroke="#333333" stroke-width="2.0"/>
<line x1="246.75" y1="711.2" x2="246.75" y2="722.7" stroke="#333333" stroke-width="1.15"/>
<line x1="246.75" y1="735.2" x2="246.75" y2="742.8" stroke="#333333" stroke-width="1.15"/>
<rect x="241.55" y="722.7" width="10.4" height="12.5" fill="#00BFC4" stroke="#333333" stroke-width="1.0"/>
<line x1="241.55" y1="730.8" x2="251.95" y2="730.8" stroke="#333333" stroke-width="2.0"/>
<circle cx="246.75" cy="686.1" r="2.1" fill="#333333"/>
<circle cx="246.75" cy="693.7" r="2.1" fill="#333333"/>
<circle cx="246.75" cy="699.5" r="2.1" fill="#333333"/>
<line x1="257.65" y1="732.2" x2="257.65" y2="737.6" stroke="#333333" stroke-width="1.15"/>
<line x1="257.65" y1="750.6" x2="257.65" y2="768" stroke="#333333" stroke-width="1.15"/>
<rect x="252.45" y="737.6" width="10.4" height="13" fill="#C77CFF" stroke="#333333" stroke-width="1.0"/>
<line x1="252.45" y1="743" x2="262.85" y2="743" stroke="#333333" stroke-width="2.0"/>
<circle cx="257.65" cy="691.8" r="2.1" fill="#333333"/>
<circle cx="257.65" cy="785" r="2.1" fill="#333333"/>
<path d="M51.8 630.9V792.4H284.3" fill="none" stroke="#222" stroke-width="1.2"/>
<line x1="49.1" y1="785.7" x2="51.8" y2="785.7" stroke="#333333" stroke-width="1.0"/>
<text x="47.2" y="790.4" font-size="10.3" text-anchor="end" fill="#222" stroke="#222" stroke-width="0.25">0.7</text>
<line x1="49.1" y1="747.5" x2="51.8" y2="747.5" stroke="#333333" stroke-width="1.0"/>
<text x="47.2" y="752.2" font-size="10.3" text-anchor="end" fill="#222" stroke="#222" stroke-width="0.25">0.9</text>
<line x1="49.1" y1="709.2" x2="51.8" y2="709.2" stroke="#333333" stroke-width="1.0"/>
<text x="47.2" y="713.9" font-size="10.3" text-anchor="end" fill="#222" stroke="#222" stroke-width="0.25">1.1</text>
<line x1="49.1" y1="671" x2="51.8" y2="671" stroke="#333333" stroke-width="1.0"/>
<text x="47.2" y="675.7" font-size="10.3" text-anchor="end" fill="#222" stroke="#222" stroke-width="0.25">1.3</text>
<line x1="49.1" y1="632.7" x2="51.8" y2="632.7" stroke="#333333" stroke-width="1.0"/>
<text x="47.2" y="637.4" font-size="10.3" text-anchor="end" fill="#222" stroke="#222" stroke-width="0.25">1.5</text>
<line x1="95.75" y1="792.4" x2="95.75" y2="795.1" stroke="#333333" stroke-width="1.0"/>
<text transform="translate(98.4,804.7) scale(1.03,1)" font-size="9.95" text-anchor="middle" fill="#222" stroke="#222" stroke-width="0.25">Heading stage</text>
<line x1="168.55" y1="792.4" x2="168.55" y2="795.1" stroke="#333333" stroke-width="1.0"/>
<text transform="translate(172.35,804.7) scale(1.03,1)" font-size="9.95" text-anchor="middle" fill="#222" stroke="#222" stroke-width="0.25">Anthesis stage</text>
<line x1="241.3" y1="792.4" x2="241.3" y2="795.1" stroke="#333333" stroke-width="1.0"/>
<text transform="translate(244.55,804.7) scale(1.03,1)" font-size="9.95" text-anchor="middle" fill="#222" stroke="#222" stroke-width="0.25">Milk stage</text>
<text transform="translate(19.9,707.2) rotate(-90)" font-size="16.8" text-anchor="middle" fill="#000">LAI</text>
<line x1="337.35" y1="726.2" x2="337.35" y2="736.5" stroke="#333333" stroke-width="1.15"/>
<line x1="337.35" y1="746.9" x2="337.35" y2="757.3" stroke="#333333" stroke-width="1.15"/>
<rect x="332.15" y="736.5" width="10.4" height="10.4" fill="#F8766D" stroke="#333333" stroke-width="1.0"/>
<line x1="332.15" y1="740.6" x2="342.55" y2="740.6" stroke="#333333" stroke-width="2.0"/>
<circle cx="337.35" cy="717.5" r="2.1" fill="#333333"/>
<circle cx="337.35" cy="769.8" r="2.1" fill="#333333"/>
<line x1="348.25" y1="730.5" x2="348.25" y2="738.7" stroke="#333333" stroke-width="1.15"/>
<line x1="348.25" y1="747.2" x2="348.25" y2="757.3" stroke="#333333" stroke-width="1.15"/>
<rect x="343.05" y="738.7" width="10.4" height="8.5" fill="#7CAE00" stroke="#333333" stroke-width="1.0"/>
<line x1="343.05" y1="742.5" x2="353.45" y2="742.5" stroke="#333333" stroke-width="2.0"/>
<circle cx="348.25" cy="707.1" r="2.1" fill="#333333"/>
<circle cx="348.25" cy="723.8" r="2.1" fill="#333333"/>
<circle cx="348.25" cy="763.5" r="2.1" fill="#333333"/>
<line x1="359.15" y1="728.1" x2="359.15" y2="736.5" stroke="#333333" stroke-width="1.15"/>
<line x1="359.15" y1="742.3" x2="359.15" y2="750.7" stroke="#333333" stroke-width="1.15"/>
<rect x="353.95" y="736.5" width="10.4" height="5.8" fill="#00BFC4" stroke="#333333" stroke-width="1.0"/>
<line x1="353.95" y1="740.9" x2="364.35" y2="740.9" stroke="#333333" stroke-width="2.0"/>
<circle cx="359.15" cy="723.8" r="2.1" fill="#333333"/>
<circle cx="359.15" cy="755.3" r="2.1" fill="#333333"/>
<line x1="370.05" y1="730.3" x2="370.05" y2="740.4" stroke="#333333" stroke-width="1.15"/>
<line x1="370.05" y1="746.9" x2="370.05" y2="755.6" stroke="#333333" stroke-width="1.15"/>
<rect x="364.85" y="740.4" width="10.4" height="6.5" fill="#C77CFF" stroke="#333333" stroke-width="1.0"/>
<line x1="364.85" y1="744.4" x2="375.25" y2="744.4" stroke="#333333" stroke-width="2.0"/>
<circle cx="370.05" cy="757.3" r="2.1" fill="#333333"/>
<circle cx="370.05" cy="770" r="2.1" fill="#333333"/>
<circle cx="370.05" cy="772.5" r="2.1" fill="#333333"/>
<line x1="410" y1="728.1" x2="410" y2="738.5" stroke="#333333" stroke-width="1.15"/>
<line x1="410" y1="751.3" x2="410" y2="763.3" stroke="#333333" stroke-width="1.15"/>
<rect x="404.8" y="738.5" width="10.4" height="12.8" fill="#F8766D" stroke="#333333" stroke-width="1.0"/>
<line x1="404.8" y1="744.7" x2="415.2" y2="744.7" stroke="#333333" stroke-width="2.0"/>
<circle cx="410" cy="772" r="2.1" fill="#333333"/>
<line x1="420.9" y1="713.6" x2="420.9" y2="725.6" stroke="#333333" stroke-width="1.15"/>
<line x1="420.9" y1="738.2" x2="420.9" y2="755.1" stroke="#333333" stroke-width="1.15"/>
<rect x="415.7" y="725.6" width="10.4" height="12.6" fill="#7CAE00" stroke="#333333" stroke-width="1.0"/>
<line x1="415.7" y1="732.4" x2="426.1" y2="732.4" stroke="#333333" stroke-width="2.0"/>
<line x1="431.8" y1="713.6" x2="431.8" y2="721.8" stroke="#333333" stroke-width="1.15"/>
<line x1="431.8" y1="730" x2="431.8" y2="743.1" stroke="#333333" stroke-width="1.15"/>
<rect x="426.6" y="721.8" width="10.4" height="8.2" fill="#00BFC4" stroke="#333333" stroke-width="1.0"/>
<line x1="426.6" y1="726" x2="437" y2="726" stroke="#333333" stroke-width="2.0"/>
<circle cx="431.8" cy="744.7" r="2.1" fill="#333333"/>
<circle cx="431.8" cy="757.3" r="2.1" fill="#333333"/>
<line x1="442.7" y1="715.8" x2="442.7" y2="731.6" stroke="#333333" stroke-width="1.15"/>
<line x1="442.7" y1="743.3" x2="442.7" y2="755.1" stroke="#333333" stroke-width="1.15"/>
<rect x="437.5" y="731.6" width="10.4" height="11.7" fill="#C77CFF" stroke="#333333" stroke-width="1.0"/>
<line x1="437.5" y1="736.3" x2="447.9" y2="736.3" stroke="#333333" stroke-width="2.0"/>
<line x1="482.8" y1="709.5" x2="482.8" y2="728.5" stroke="#333333" stroke-width="1.15"/>
<line x1="482.8" y1="742.2" x2="482.8" y2="755.1" stroke="#333333" stroke-width="1.15"/>
<rect x="477.6" y="728.5" width="10.4" height="13.7" fill="#F8766D" stroke="#333333" stroke-width="1.0"/>
<line x1="477.6" y1="734.4" x2="488" y2="734.4" stroke="#333333" stroke-width="2.0"/>
<circle cx="482.8" cy="682" r="2.1" fill="#333333"/>
<line x1="493.7" y1="701.3" x2="493.7" y2="717.5" stroke="#333333" stroke-width="1.15"/>
<line x1="493.7" y1="734.4" x2="493.7" y2="755.1" stroke="#333333" stroke-width="1.15"/>
<rect x="488.5" y="717.5" width="10.4" height="16.9" fill="#7CAE00" stroke="#333333" stroke-width="1.0"/>
<line x1="488.5" y1="723" x2="498.9" y2="723" stroke="#333333" stroke-width="2.0"/>
<line x1="504.6" y1="703.5" x2="504.6" y2="717.2" stroke="#333333" stroke-width="1.15"/>
<line x1="504.6" y1="727.9" x2="504.6" y2="736.2" stroke="#333333" stroke-width="1.15"/>
<rect x="499.4" y="717.2" width="10.4" height="10.7" fill="#00BFC4" stroke="#333333" stroke-width="1.0"/>
<line x1="499.4" y1="723.8" x2="509.8" y2="723.8" stroke="#333333" stroke-width="2.0"/>
<circle cx="504.6" cy="696.5" r="2.1" fill="#333333"/>
<circle cx="504.6" cy="751" r="2.1" fill="#333333"/>
<line x1="515.5" y1="718" x2="515.5" y2="728.5" stroke="#333333" stroke-width="1.15"/>
<line x1="515.5" y1="738.3" x2="515.5" y2="748.6" stroke="#333333" stroke-width="1.15"/>
<rect x="510.3" y="728.5" width="10.4" height="9.8" fill="#C77CFF" stroke="#333333" stroke-width="1.0"/>
<line x1="510.3" y1="731.2" x2="520.7" y2="731.2" stroke="#333333" stroke-width="2.0"/>
<circle cx="515.5" cy="711.2" r="2.1" fill="#333333"/>
<circle cx="515.5" cy="763.5" r="2.1" fill="#333333"/>
<path d="M310.3 631.3V791.9H542.6" fill="none" stroke="#222" stroke-width="1.2"/>
<line x1="307.6" y1="763.5" x2="310.3" y2="763.5" stroke="#333333" stroke-width="1.0"/>
<text x="305.7" y="768.2" font-size="10.3" text-anchor="end" fill="#222" stroke="#222" stroke-width="0.25">0.8</text>
<line x1="307.6" y1="721.8" x2="310.3" y2="721.8" stroke="#333333" stroke-width="1.0"/>
<text x="305.7" y="726.5" font-size="10.3" text-anchor="end" fill="#222" stroke="#222" stroke-width="0.25">1.0</text>
<line x1="307.6" y1="680.2" x2="310.3" y2="680.2" stroke="#333333" stroke-width="1.0"/>
<text x="305.7" y="684.9" font-size="10.3" text-anchor="end" fill="#222" stroke="#222" stroke-width="0.25">1.2</text>
<line x1="307.6" y1="638.5" x2="310.3" y2="638.5" stroke="#333333" stroke-width="1.0"/>
<text x="305.7" y="643.2" font-size="10.3" text-anchor="end" fill="#222" stroke="#222" stroke-width="0.25">1.4</text>
<line x1="353.7" y1="791.9" x2="353.7" y2="794.6" stroke="#333333" stroke-width="1.0"/>
<text transform="translate(356.35,804.2) scale(1.03,1)" font-size="9.95" text-anchor="middle" fill="#222" stroke="#222" stroke-width="0.25">Heading stage</text>
<line x1="426.35" y1="791.9" x2="426.35" y2="794.6" stroke="#333333" stroke-width="1.0"/>
<text transform="translate(430.15,804.2) scale(1.03,1)" font-size="9.95" text-anchor="middle" fill="#222" stroke="#222" stroke-width="0.25">Anthesis stage</text>
<line x1="499.15" y1="791.9" x2="499.15" y2="794.6" stroke="#333333" stroke-width="1.0"/>
<text transform="translate(502.4,804.2) scale(1.03,1)" font-size="9.95" text-anchor="middle" fill="#222" stroke="#222" stroke-width="0.25">Milk stage</text>
</svg></div></body></html>
